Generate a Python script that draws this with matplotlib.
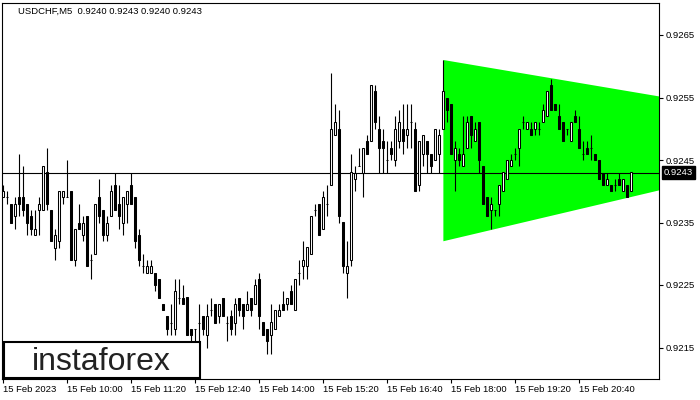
import matplotlib
matplotlib.use("Agg")
import matplotlib.pyplot as plt
import matplotlib.transforms as mtransforms
from matplotlib.patches import Rectangle, Polygon

symbol_title = "USDCHF,M5  0.9240 0.9243 0.9240 0.9243"

opens = [0.9239,0.9239,0.9238,0.9236,0.9239,0.9239,0.9238,0.9236,0.9233,0.9237,
         0.9237,0.9243,0.9237,0.9231,0.9232,0.9239,0.9239,0.9240,0.9229,0.9235,
         0.9233,0.9236,0.9229,0.9230,0.9239,0.9237,0.9233,0.9236,0.9241,0.9238,
         0.9235,0.9238,0.9241,0.9239,0.9233,0.9228,0.9227,0.9227,0.9227,0.9226,
         0.9222,0.9220,0.9219,0.9218,0.9223,0.9223,0.9223,0.9218,0.9218,0.9219,
         0.9220,0.9217,0.9221,0.9222,0.9220,0.9223,0.9219,0.9220,0.9219,0.9223,
         0.9222,0.9221,0.9223,0.9222,0.9226,0.9219,0.9218,0.9217,0.9218,0.9220,
         0.9222,0.9222,0.9224,0.9221,0.9227,0.9228,0.9228,0.9230,0.9237,0.9238,
         0.9234,0.9238,0.9241,0.9249,0.9250,0.9235,0.9227,0.9229,0.9242,0.9244,
         0.9243,0.9248,0.9248,0.9256,0.9250,0.9248,0.9245,0.9247,0.9245,0.9248,
         0.9250,0.9249,0.9251,0.9250,0.9241,0.9246,0.9248,0.9246,0.9245,0.9246,
         0.9250,0.9255,0.9254,0.9245,0.9246,0.9244,0.9247,0.9252,0.9248,0.9251,
         0.9244,0.9239,0.9237,0.9237,0.9238,0.9240,0.9242,0.9244,0.9246,0.9247,
         0.9251,0.9250,0.9250,0.9250,0.9250,0.9251,0.9252,0.9257,0.9254,0.9252,
         0.9251,0.9250,0.9248,0.9252,0.9250,0.9246,0.9247,0.9247,0.9246,0.9245,
         0.9243,0.9241,0.9241,0.9241,0.9242,0.9240,0.9241,0.9240]
highs = [0.9241,0.9240,0.9238,0.9239,0.9246,0.9244,0.9238,0.9237,0.9237,0.9239,
         0.9244,0.9247,0.9237,0.9234,0.9240,0.9240,0.9245,0.9240,0.9234,0.9238,
         0.9236,0.9236,0.9230,0.9238,0.9242,0.9237,0.9236,0.9241,0.9243,0.9241,
         0.9239,0.9240,0.9243,0.9239,0.9234,0.9230,0.9229,0.9229,0.9227,0.9226,
         0.9222,0.9220,0.9222,0.9226,0.9226,0.9225,0.9223,0.9218,0.9218,0.9222,
         0.9220,0.9222,0.9223,0.9222,0.9222,0.9223,0.9220,0.9221,0.9223,0.9223,
         0.9222,0.9224,0.9223,0.9226,0.9227,0.9219,0.9218,0.9222,0.9221,0.9222,
         0.9224,0.9223,0.9225,0.9226,0.9229,0.9232,0.9231,0.9236,0.9238,0.9238,
         0.9240,0.9241,0.9259,0.9254,0.9253,0.9235,0.9232,0.9246,0.9244,0.9247,
         0.9247,0.9249,0.9257,0.9257,0.9252,0.9250,0.9248,0.9248,0.9252,0.9253,
         0.9254,0.9254,0.9254,0.9251,0.9248,0.9249,0.9248,0.9246,0.9250,0.9250,
         0.9261,0.9255,0.9254,0.9248,0.9247,0.9252,0.9252,0.9252,0.9251,0.9251,
         0.9244,0.9239,0.9239,0.9237,0.9241,0.9243,0.9245,0.9246,0.9247,0.9250,
         0.9252,0.9251,0.9251,0.9251,0.9251,0.9254,0.9256,0.9258,0.9254,0.9254,
         0.9251,0.9250,0.9251,0.9253,0.9252,0.9248,0.9248,0.9249,0.9246,0.9245,
         0.9243,0.9243,0.9241,0.9242,0.9243,0.9242,0.9241,0.9243]
lows = [0.9239,0.9238,0.9235,0.9234,0.9236,0.9236,0.9233,0.9233,0.9233,0.9233,
        0.9237,0.9237,0.9232,0.9229,0.9231,0.9238,0.9239,0.9229,0.9228,0.9234,
        0.9232,0.9228,0.9226,0.9230,0.9235,0.9232,0.9232,0.9236,0.9237,0.9234,
        0.9233,0.9235,0.9238,0.9231,0.9228,0.9227,0.9227,0.9227,0.9224,0.9223,
        0.9221,0.9217,0.9217,0.9217,0.9222,0.9222,0.9217,0.9216,0.9216,0.9216,
        0.9217,0.9215,0.9220,0.9219,0.9219,0.9220,0.9216,0.9217,0.9217,0.9220,
        0.9218,0.9221,0.9220,0.9222,0.9218,0.9217,0.9214,0.9214,0.9218,0.9220,
        0.9221,0.9221,0.9222,0.9221,0.9225,0.9226,0.9226,0.9230,0.9236,0.9233,
        0.9234,0.9236,0.9241,0.9249,0.9235,0.9227,0.9223,0.9228,0.9240,0.9244,
        0.9239,0.9246,0.9248,0.9250,0.9243,0.9243,0.9243,0.9245,0.9244,0.9247,
        0.9246,0.9247,0.9247,0.9240,0.9240,0.9244,0.9243,0.9243,0.9245,0.9243,
        0.9250,0.9251,0.9246,0.9240,0.9244,0.9244,0.9247,0.9247,0.9248,0.9243,
        0.9238,0.9236,0.9234,0.9236,0.9236,0.9240,0.9242,0.9244,0.9245,0.9244,
        0.9250,0.9250,0.9249,0.9249,0.9249,0.9251,0.9252,0.9253,0.9253,0.9250,
        0.9248,0.9249,0.9248,0.9251,0.9247,0.9245,0.9246,0.9245,0.9245,0.9242,
        0.9241,0.9241,0.9240,0.9240,0.9241,0.9240,0.9239,0.9240]
closes = [0.9240,0.9239,0.9235,0.9238,0.9238,0.9237,0.9235,0.9234,0.9234,0.9238,
          0.9244,0.9238,0.9232,0.9233,0.9240,0.9240,0.9239,0.9229,0.9234,0.9234,
          0.9235,0.9228,0.9229,0.9238,0.9236,0.9233,0.9235,0.9240,0.9237,0.9236,
          0.9239,0.9240,0.9238,0.9232,0.9229,0.9228,0.9228,0.9228,0.9225,0.9223,
          0.9221,0.9218,0.9219,0.9224,0.9223,0.9222,0.9217,0.9217,0.9218,0.9219,
          0.9218,0.9220,0.9221,0.9219,0.9222,0.9220,0.9219,0.9218,0.9222,0.9221,
          0.9220,0.9222,0.9221,0.9225,0.9220,0.9217,0.9216,0.9219,0.9221,0.9221,
          0.9221,0.9223,0.9222,0.9226,0.9227,0.9229,0.9231,0.9236,0.9237,0.9233,
          0.9239,0.9238,0.9250,0.9251,0.9236,0.9228,0.9228,0.9243,0.9243,0.9244,
          0.9247,0.9246,0.9257,0.9251,0.9247,0.9247,0.9245,0.9246,0.9250,0.9251,
          0.9248,0.9250,0.9251,0.9240,0.9248,0.9249,0.9246,0.9244,0.9250,0.9249,
          0.9256,0.9253,0.9246,0.9247,0.9245,0.9246,0.9251,0.9249,0.9250,0.9245,
          0.9238,0.9236,0.9238,0.9237,0.9241,0.9243,0.9245,0.9245,0.9246,0.9250,
          0.9251,0.9251,0.9249,0.9251,0.9250,0.9253,0.9256,0.9253,0.9253,0.9250,
          0.9248,0.9250,0.9251,0.9251,0.9247,0.9246,0.9246,0.9247,0.9245,0.9242,
          0.9241,0.9242,0.9240,0.9241,0.9241,0.9242,0.9239,0.9243]

time_tick_bars = [0, 16, 32, 48, 64, 80, 96, 112, 128, 144]
time_tick_labels = ["15 Feb 2023", "15 Feb 10:00", "15 Feb 11:20", "15 Feb 12:40",
                    "15 Feb 14:00", "15 Feb 15:20", "15 Feb 16:40", "15 Feb 18:00",
                    "15 Feb 19:20", "15 Feb 20:40"]
price_ticks = [0.9215, 0.9225, 0.9235, 0.9245, 0.9255, 0.9265]
current_price = 0.9243

# symmetric triangle pattern vertices (bar index, price)
triangle_bars = [110, 110, 222]
triangle_prices = [0.9261, 0.9232, 0.92489]

FONT = "Liberation Sans"
FS = 6.8

fig = plt.figure(figsize=(7, 4), dpi=100)
ax = fig.add_axes([2/700, 21/400, 657/700, 376/400])
ax.set_xlim(-0.33, 163.9)
ax.set_ylim(0.920996, 0.927012)

# triangle
ax.add_patch(Polygon(list(zip(triangle_bars, triangle_prices)), closed=True,
                     facecolor="#00FF00", edgecolor="none", zorder=1))

# current price line
ax.axhline(current_price, color="black", lw=0.8, zorder=2)

xs = list(range(len(opens)))
wlo = [min(l, o, c) for l, o, c in zip(lows, opens, closes)]
whi = [max(h, o, c) for h, o, c in zip(highs, opens, closes)]
ax.vlines(xs, wlo, whi, color="black", lw=0.8, zorder=3)
bottoms = [min(o, c) for o, c in zip(opens, closes)]
heights = [abs(c - o) for o, c in zip(opens, closes)]
colors = ["white" if c >= o else "black" for o, c in zip(opens, closes)]
ax.bar(xs, heights, bottom=bottoms, width=0.5, color=colors,
       edgecolor="black", linewidth=0.75, zorder=4)

# axes styling
for s in ax.spines.values():
    s.set_color("black")
    s.set_linewidth(0.8)
ax.yaxis.tick_right()
ax.set_yticks(price_ticks)
ax.set_yticklabels([f"{p:.4f}" for p in price_ticks], fontfamily=FONT, fontsize=FS)
ax.set_xticks(time_tick_bars)
ax.set_xticklabels(time_tick_labels, fontfamily=FONT, fontsize=FS, ha="left")
ax.tick_params(axis="x", direction="out", length=3, width=0.8, pad=1.5, colors="black")
ax.tick_params(axis="y", direction="out", length=3, width=0.8, pad=1.5, colors="black")

# current price tag
trans = mtransforms.blended_transform_factory(ax.transAxes, ax.transData)
ax.text(1.0075, current_price, f"{current_price:.4f}", transform=trans,
        ha="left", va="center", color="white", fontfamily=FONT, fontsize=FS,
        bbox=dict(boxstyle="square,pad=0.25", fc="black", ec="black"),
        clip_on=False, zorder=10)

# title
fig.text(18/700, 1 - 11/400, symbol_title, ha="left", va="center",
         fontfamily=FONT, fontsize=FS, color="black")

# logo box
fig.patches.append(Rectangle((4/700, 22/400), 196/700, 36/400, transform=fig.transFigure,
                             facecolor="white", edgecolor="black", linewidth=1.5, zorder=5))
fig.text(101/700, (400 - 370.5)/400, "instaforex", ha="center", va="baseline",
         fontfamily=FONT, fontsize=23, color="#222222", zorder=6)

fig.savefig("out.png", dpi=100)
